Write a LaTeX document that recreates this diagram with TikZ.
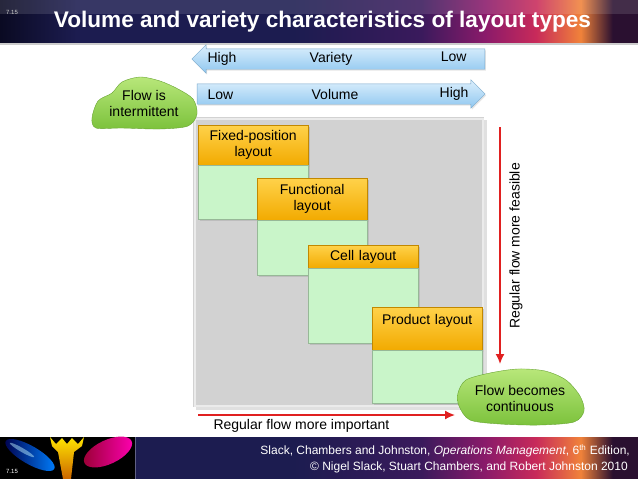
\documentclass[tikz,border=0pt]{standalone}
\usepackage{fontspec}
\setmainfont{Liberation Sans}
\usetikzlibrary{positioning,shapes.arrows,shadows,arrows.meta}
\definecolor{bandA}{HTML}{0A0A22}
\definecolor{bandB}{HTML}{1C1C50}
\definecolor{bandC}{HTML}{3A1A5C}
\definecolor{bandD}{HTML}{8A1A6A}
\definecolor{bandE}{HTML}{C82A5A}
\definecolor{bandF}{HTML}{F0823A}
\definecolor{bandG}{HTML}{2A1030}
\definecolor{graybg}{HTML}{D2D2D2}
\definecolor{boxtop}{HTML}{FFD24A}
\definecolor{boxbot}{HTML}{F2AA00}
\definecolor{panelgreen}{HTML}{C9F5C9}
\definecolor{arrowtop}{HTML}{DCEFFC}
\definecolor{arrowbot}{HTML}{8FC7F0}
\definecolor{cloudtop}{HTML}{B8E77A}
\definecolor{cloudbot}{HTML}{7CC23C}
\definecolor{flowred}{HTML}{E02020}
% banner colour runs, 25bp..75bp is the band itself
\pgfdeclarehorizontalshading{bannershade}{100bp}{color(0bp)=(bandA); color(25bp)=(bandA);
  color(31bp)=(bandB); color(48bp)=(bandB); color(58bp)=(bandC); color(63bp)=(bandD);
  color(67bp)=(bandE); color(70.5bp)=(bandF); color(73bp)=(bandG); color(100bp)=(bandG)}

\begin{document}
\begin{tikzpicture}[x=1pt,y=-1pt,
    every node/.style={font=\fontsize{14}{16}\selectfont},
    layoutbox/.style={draw=boxbot!80!black, top color=boxtop, bottom color=boxbot,
      minimum width=110, inner sep=0, text width=106, align=center,
      drop shadow={opacity=0.3, shadow xshift=1.5pt, shadow yshift=-1.5pt}},
    panel/.style={draw=panelgreen!75!black, fill=panelgreen, minimum width=110,
      inner sep=0, drop shadow={opacity=0.25, shadow xshift=1.5pt, shadow yshift=-1.5pt}},
    scalearrow/.style={single arrow, draw=arrowbot!85!black, top color=arrowtop,
      bottom color=arrowbot, single arrow head extend=4, inner xsep=0, inner ysep=10,
      drop shadow={opacity=0.2, shadow xshift=1pt, shadow yshift=-1.5pt}},
    flowarrow/.style={draw=flowred, line width=1.6, -{Latex[length=10pt,width=9pt]}},
    cloud/.style={draw=cloudbot!85!black, top color=cloudtop, bottom color=cloudbot},
    bandtext/.style={text=white, font=\fontsize{12}{14}\selectfont, inner sep=0}]
  \useasboundingbox (0,0) rectangle (638,479);
  \fill[white] (0,0) rectangle (638,479);

  % title band
  \fill[black!20] (0,42) rectangle (638,45);
  \shade[shading=bannershade] (0,0) rectangle (638,42);
  \fill[white,opacity=0.12] (0,0) rectangle (638,14);
  \node[text=white!80!black, font=\fontsize{6}{7}\selectfont] (pageno) at (12,12) {7.15};
  \node[text=white, font=\fontsize{22.6}{26}\bfseries] (title) at (322.5,22)
    {Volume and variety characteristics of layout types};

  % variety and volume scales
  \node[scalearrow, shape border rotate=180, minimum height=293] (variety) at (343.5,59) {};
  \node[anchor=west] (varHigh) at (204,59) {High};
  \node (varMid) at (331,59) {Variety};
  \node[anchor=east] (varLow) at (470,57) {Low};
  \node[scalearrow, minimum height=288] (volume) at (336,94) {};
  \node[anchor=west] (volLow) at (204,95) {Low};
  \node (volMid) at (335,94) {Volume};
  \node[anchor=east] (volHigh) at (472,94) {High};

  % field
  \fill[black!12] (196,120) rectangle (487,410);
  \fill[graybg] (193,117) rectangle (484,407);
  \draw[white!55!graybg, line width=2] (194.5,118.5) rectangle (482.5,405.5);

  % layout types
  \node[layoutbox, anchor=north west, minimum height=40] (fixed) at (198,125)
    {Fixed-position\\layout};
  \node[panel, minimum height=54, below=0 of fixed] (fixedPanel) {};
  \node[layoutbox, anchor=north west, minimum height=42] (functional) at (257,178)
    {Functional\\layout};
  \node[panel, minimum height=55, below=0 of functional] (functionalPanel) {};
  \node[layoutbox, anchor=north west, minimum height=23] (cell) at (308,245) {Cell layout};
  \node[panel, minimum height=75, below=0 of cell] (cellPanel) {};
  \node[layoutbox, anchor=north west, text height=17, text depth=26] (product) at (372,307)
    {Product layout};
  \node[panel, minimum height=53, below=0 of product] (productPanel) {};

  % flow arrows
  \coordinate (feasTop) at (500,127);
  \coordinate (feasEnd) at (500,364);
  \draw[flowarrow] (feasTop) -- (feasEnd);
  \node[rotate=90] (feasLabel) at (516,246) {Regular flow more feasible};
  \coordinate (impStart) at (198,415);
  \coordinate (impEnd) at (455,415);
  \draw[flowarrow] (impStart) -- (impEnd);
  \node[anchor=west] (impLabel) at (210,426) {Regular flow more important};

  % clouds
  \path[cloud] plot[smooth cycle] coordinates {(92,118) (98,101) (112,93) (122,82)
    (140,77) (160,81) (178,89) (193,99) (197,114) (188,126) (160,129) (122,128) (96,128)};
  \node[align=center, font=\fontsize{14}{16}\selectfont] (intermittent) at (144,103)
    {Flow is\\intermittent};
  \path[cloud] plot[smooth cycle] coordinates {(458,393) (466,380) (490,373) (518,369)
    (545,371) (566,380) (580,396) (584,411) (574,422) (540,425) (500,424) (470,420) (459,406)};
  \node[align=center] (continuous) at (520,398) {Flow becomes\\continuous};

  % footer band
  \shade[shading=bannershade] (0,437) rectangle (638,479);
  \fill[black] (0,437) rectangle (135,479);
  \shade[left color=blue!30!black, right color=cyan!50!blue, rotate around={-30:(30,455)}]
    (30,455) ellipse (28 and 9);
  \fill[white!70!cyan,opacity=0.5,rotate around={-30:(22,450)}] (22,450) ellipse (14 and 2);
  \shade[top color=yellow!80!orange, bottom color=orange!80!black]
    (50,437) -- (52,446) -- (58,452) -- (63,479) -- (71,479) -- (74,452) -- (82,446) -- (84,437)
    -- (78,444) -- (72,438) -- (67,444) -- (62,438) -- (56,444) -- cycle;
  \shade[left color=purple!80!black, right color=magenta!70!red, rotate around={25:(108,452)}]
    (108,452) ellipse (26 and 12);
  \fill[white,opacity=0.3] (135,437) rectangle (136,479);
  \node[text=white, font=\fontsize{6}{7}\selectfont] (footno) at (12,471) {7.15};
  \node[bandtext, anchor=east] (citeA) at (630,451)
    {Slack, Chambers and Johnston, \textit{Operations Management}, 6\textsuperscript{th} Edition,};
  \node[bandtext, anchor=east] (citeB) at (628,467)
    {© Nigel Slack, Stuart Chambers, and Robert Johnston 2010};
\end{tikzpicture}
\end{document}
